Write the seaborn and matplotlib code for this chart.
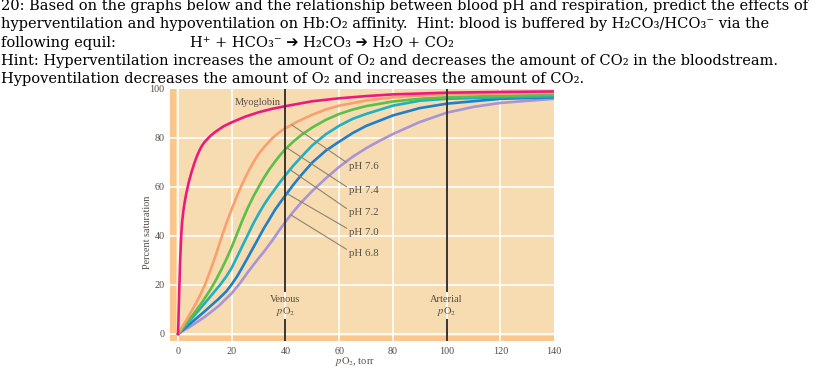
import numpy as np
import pandas as pd
import matplotlib
matplotlib.use("Agg")
import matplotlib.pyplot as plt
import seaborn as sns

# oxygen binding curves (pO2 in torr, % saturation)
po2_myo = [0, 0.25, 0.5, 0.75, 1.0, 1.25, 1.5, 2, 2.5, 3, 3.5, 4, 5, 6, 7, 8, 9, 10, 12, 14, 17, 20,
           25, 30, 35, 40, 50, 60, 70, 80, 100, 120, 140]
sat_myo = [0, 10, 20, 29, 36, 41.5, 45.5, 50.5, 54, 57, 59.5, 62, 66, 69.5, 72.5, 75, 77, 78.5, 80.8,
           82.6, 84.8, 86.4, 88.7, 90.5, 91.9, 93, 95, 96.2, 97.1, 97.8, 98.5, 98.8, 99]

po2_76 = [0, 2, 4, 6, 8, 10, 12, 14, 16, 18, 20, 22, 24, 26, 28, 30, 32, 35, 38, 40, 45, 50, 55, 60,
          70, 80, 90, 100, 120, 140]
sat_76 = [0, 3.6, 7.3, 11.2, 15.3, 20, 25.8, 32, 38.8, 45.2, 51, 56.5, 61.5, 66, 70, 73.5, 76.2, 79.8,
          82.6, 84, 87, 89.5, 91.6, 93.2, 95.3, 96.6, 97.3, 97.8, 98.2, 98.5]

po2_74 = [0, 3, 6, 9, 12, 14, 16, 18, 20, 22, 24, 26, 28, 30, 32, 34, 36, 38, 40, 43, 46, 50, 55, 60,
          65, 70, 80, 90, 100, 120, 140]
sat_74 = [0, 4.2, 8.5, 13, 18, 21.8, 26, 30.5, 35.5, 41, 46.5, 51.5, 56, 60, 63.8, 67.2, 70.2, 73,
          75.5, 78.6, 81.3, 84.3, 87.4, 89.8, 91.6, 93, 94.9, 96, 96.6, 97.2, 97.6]

po2_72 = [0, 4, 8, 12, 16, 18, 20, 22, 24, 26, 28, 30, 32, 34, 36, 38, 40, 43, 46, 50, 55, 60, 65, 70,
          80, 90, 100, 120, 140]
sat_72 = [0, 4.9, 10, 15.2, 20.5, 23.5, 27, 31.5, 36, 40.5, 45, 49, 52.7, 56, 59, 62, 64.8, 68.8,
          72.4, 77, 81.5, 85, 87.8, 89.8, 93.2, 95.2, 96, 96.6, 97]

po2_70 = [0, 5, 10, 15, 18, 20, 22, 24, 26, 28, 30, 32, 34, 36, 38, 40, 43, 46, 50, 55, 60, 65, 70,
          80, 90, 100, 120, 140]
sat_70 = [0, 4.6, 9.3, 14.2, 17.4, 20.3, 23.5, 27.3, 31.2, 35.2, 39.2, 43.2, 46.8, 50.5, 53.6, 56.6,
          61, 65, 70, 74.8, 78.5, 82, 84.9, 89.2, 92.2, 94, 96, 96.6]

po2_68 = [0, 5, 10, 15, 20, 23, 26, 29, 32, 35, 38, 40, 43, 46, 50, 55, 60, 65, 70, 75, 80, 90, 100,
          110, 120, 140]
sat_68 = [0, 3.3, 7, 11.3, 16.6, 20.6, 25.2, 29.5, 33.6, 38, 42.8, 45.8, 50, 53.8, 58.4, 63.5, 68.2,
          72.3, 75.8, 78.8, 81.6, 86.5, 90.3, 92.7, 94.3, 96]

curve_names = ["pH 6.8", "pH 7.0", "pH 7.2", "pH 7.4", "pH 7.6", "Myoglobin"]
curve_colors = ["#a894d6", "#1f7fc9", "#1db1c1", "#5bbf48", "#fa9f6e", "#ec1a7f"]
ph_labels = ["pH 7.6", "pH 7.4", "pH 7.2", "pH 7.0", "pH 6.8"]
leader_start = [42.3, 40.5, 41.7, 40.5, 42.0]   # pO2 where leader touches curve
label_y = [68.3, 58.4, 49.5, 41.6, 32.9]

venous_po2 = 40
arterial_po2 = 100
x_ticks = [0, 20, 40, 60, 80, 100, 120, 140]
y_ticks = [0, 20, 40, 60, 80, 100]

question = [
    "20: Based on the graphs below and the relationship between blood pH and respiration, predict the effects of",
    "hyperventilation and hypoventilation on Hb:O\u2082 affinity.  Hint: blood is buffered by H\u2082CO\u2083/HCO\u2083\u207b via the",
    "following equil:",
    "Hint: Hyperventilation increases the amount of O\u2082 and decreases the amount of CO\u2082 in the bloodstream.",
    "Hypoventilation decreases the amount of O\u2082 and increases the amount of CO\u2082.",
]
equation = "H\u207a + HCO\u2083\u207b \u2794 H\u2082CO\u2083 \u2794 H\u2082O + CO\u2082"

curves = {
    "Myoglobin": (po2_myo, sat_myo), "pH 7.6": (po2_76, sat_76), "pH 7.4": (po2_74, sat_74),
    "pH 7.2": (po2_72, sat_72), "pH 7.0": (po2_70, sat_70), "pH 6.8": (po2_68, sat_68),
}
df = pd.concat([pd.DataFrame({"po2": x, "sat": y, "curve": k}) for k, (x, y) in curves.items()])

plt.rcParams["mathtext.fontset"] = "stix"
serif = ["Liberation Serif", "DejaVu Serif"]
txt_col = "#554d47"

fig = plt.figure(figsize=(8.16, 3.74), dpi=100)
ax = fig.add_axes([170 / 816, 33 / 374, 384 / 816, 252 / 374])
ax.set_xlim(-3, 140)
ax.set_ylim(-2.9, 100)
ax.set_facecolor("#f8dcb1")
ax.axvspan(-3, -0.6, color="#fbc68b", lw=0, zorder=0)
ax.axhspan(-2.9, -0.9, color="#fbc68b", lw=0, zorder=0)
for gx in x_ticks[:-1]:
    ax.axvline(gx, color="white", lw=1.2, zorder=1)
for gy in y_ticks[:-1]:
    ax.axhline(gy, color="white", lw=1.2, zorder=1)

sns.lineplot(data=df, x="po2", y="sat", hue="curve", hue_order=curve_names,
             palette=dict(zip(curve_names, curve_colors)), linewidth=1.9,
             legend=False, sort=False, ax=ax, zorder=3)

# venous / arterial markers with a gap for the label
for xv, name in [(venous_po2, "Venous"), (arterial_po2, "Arterial")]:
    ax.vlines(xv, 17.3, 100, color="#3a3330", lw=1.4, zorder=4)
    ax.vlines(xv, -2.9, 6.2, color="#3a3330", lw=1.4, zorder=4)
    ax.text(xv, 13.9, name, ha="center", va="center", fontsize=7.5, family=serif, color=txt_col)
    ax.text(xv, 9.0, r"$p\mathrm{O}_2$", ha="center", va="center", fontsize=7.5, color=txt_col)

ax.text(38.4, 94.6, "Myoglobin", ha="right", va="center", fontsize=7.5, family=serif, color=txt_col)

curve_lookup = dict(zip(["pH 7.6", "pH 7.4", "pH 7.2", "pH 7.0", "pH 6.8"],
                        [(po2_76, sat_76), (po2_74, sat_74), (po2_72, sat_72),
                         (po2_70, sat_70), (po2_68, sat_68)]))
for lab, x0, ly in zip(ph_labels, leader_start, label_y):
    cx, cy = curve_lookup[lab]
    ax.annotate(lab, xy=(x0, np.interp(x0, cx, cy)), xytext=(63.8, ly),
                ha="left", va="center", fontsize=7.8, family=serif, color=txt_col,
                arrowprops=dict(arrowstyle="-", color="#8f826c", lw=0.8,
                                shrinkA=0, shrinkB=0, relpos=(0, 0.75)), zorder=5)

ax.set_xticks(x_ticks)
ax.set_yticks(y_ticks)
ax.tick_params(length=0, labelsize=7.3, labelcolor=txt_col, pad=4)
for t in ax.get_xticklabels() + ax.get_yticklabels():
    t.set_family(serif)
ax.set_xlabel("")
ax.set_ylabel("")
sns.despine(ax=ax, left=True, bottom=True)

fig.text(148 / 816, 1 - 232 / 374, "Percent saturation", rotation=90, ha="center", va="center",
         fontsize=7.3, family=serif, color=txt_col)
fig.text(355 / 816, 1 - 362 / 374, r"$p\mathrm{O}_2$, torr", ha="center", va="center",
         fontsize=7.5, family=serif, color=txt_col)

# question text above the chart, sized so the first line spans the width like the original
qfont = ["DejaVu Serif", "DejaVu Sans"]
base = [10, 28.3, 46.7, 65, 83.3]
probe = fig.text(1 / 816, 1 - base[0] / 374, question[0], fontsize=10, family=qfont)
fig.canvas.draw()
qsize = 10 * 810 / probe.get_window_extent().width
probe.remove()
for line, b in zip(question, base):
    fig.text(1 / 816, 1 - b / 374, line, ha="left", va="baseline", fontsize=qsize,
             family=qfont, color="black")
fig.text(190 / 816, 1 - base[2] / 374, equation, ha="left", va="baseline", fontsize=qsize,
         family=qfont, color="black")

fig.savefig("out.png", dpi=100)
